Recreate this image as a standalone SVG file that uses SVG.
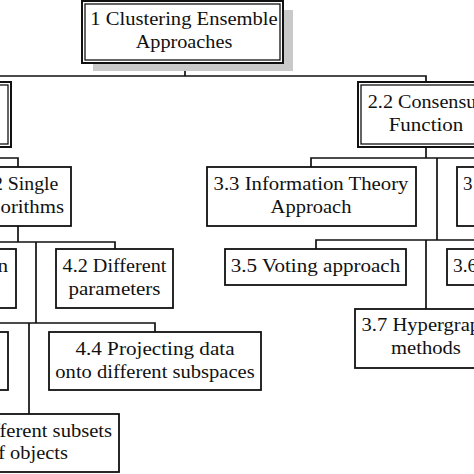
<svg xmlns="http://www.w3.org/2000/svg" width="474" height="474" viewBox="0 0 474 474">
<style>
.box{fill:#fff;stroke:#111;stroke-width:1.8}
.outer{fill:#fff;stroke:#111;stroke-width:2}
.inner{fill:none;stroke:#111;stroke-width:1.3}
.shadow{fill:#c9c9c9;stroke:none}
.conn{fill:none;stroke:#111;stroke-width:1.7}
text{font-family:"Liberation Serif","Times New Roman",serif;font-size:19px;fill:#111}
.c{text-anchor:middle}
</style>
<rect width="474" height="474" fill="#fff"/>
<g id="connectors">
<path class="conn" d="M185 63V76M0 76H426V82"/>
<path class="conn" d="M0 158H18V167M18 226V242M0 242H115V249M36 242V323M0 323H155V332M29 323V414"/>
<path class="conn" d="M426 147V158M311 167V158H474M437 158V240M316 249V240H474M426 240V309"/>
</g>
<g id="n1">
<rect class="shadow" x="93" y="10" width="200" height="61"/>
<rect class="outer" x="82" y="1" width="201" height="62"/>
<rect class="inner" x="85" y="4" width="195" height="56"/>
<text class="c" x="184" y="25" textLength="187.4" lengthAdjust="spacingAndGlyphs">1 Clustering Ensemble</text>
<text class="c" x="184" y="48" textLength="96.7" lengthAdjust="spacingAndGlyphs">Approaches</text>
</g>
<g id="n21">
<rect class="outer" x="-60" y="82" width="71" height="65"/>
<rect class="inner" x="-57" y="85" width="65" height="59"/>
</g>
<g id="n22">
<rect class="outer" x="358" y="82" width="136" height="65"/>
<rect class="inner" x="361" y="85" width="130" height="59"/>
<text class="c" x="426" y="107.5" textLength="116.4" lengthAdjust="spacingAndGlyphs">2.2 Consensus</text>
<text class="c" x="426" y="130.5" textLength="74.7" lengthAdjust="spacingAndGlyphs">Function</text>
</g>
<g id="n32">
<rect class="box" x="-80" y="167" width="151" height="59"/>
<text x="-7.1" y="189.5" textLength="65.4" lengthAdjust="spacingAndGlyphs">2 Single</text>
<text x="0.5" y="212.5" textLength="63.5" lengthAdjust="spacingAndGlyphs">orithms</text>
</g>
<g id="n33">
<rect class="box" x="207" y="167" width="209" height="59"/>
<text class="c" x="311" y="189.5" textLength="194.9" lengthAdjust="spacingAndGlyphs">3.3 Information Theory</text>
<text class="c" x="311" y="212.5" textLength="80.8" lengthAdjust="spacingAndGlyphs">Approach</text>
</g>
<g id="n34">
<rect class="box" x="457" y="167" width="60" height="59"/>
<text x="463" y="189.5" textLength="9.5" lengthAdjust="spacingAndGlyphs">3</text>
</g>
<g id="n41">
<rect class="box" x="-60" y="249" width="76" height="59"/>
<text x="-2.6" y="271.5" textLength="10.6" lengthAdjust="spacingAndGlyphs">n</text>
</g>
<g id="n42">
<rect class="box" x="56" y="249" width="117" height="59"/>
<text class="c" x="114.5" y="271.5" textLength="103.8" lengthAdjust="spacingAndGlyphs">4.2 Different</text>
<text class="c" x="114.5" y="294.5" textLength="92" lengthAdjust="spacingAndGlyphs">parameters</text>
</g>
<g id="n35">
<rect class="box" x="225" y="249" width="181" height="36"/>
<text class="c" x="315.5" y="271.5" textLength="169.5" lengthAdjust="spacingAndGlyphs">3.5 Voting approach</text>
</g>
<g id="n36">
<rect class="box" x="447" y="249" width="60" height="36"/>
<text x="453" y="271.5" textLength="24.3" lengthAdjust="spacingAndGlyphs">3.6</text>
</g>
<g id="n37">
<rect class="box" x="355" y="309" width="142" height="59"/>
<text class="c" x="426" y="331" textLength="128.9" lengthAdjust="spacingAndGlyphs">3.7 Hypergraph</text>
<text class="c" x="426" y="354" textLength="69.8" lengthAdjust="spacingAndGlyphs">methods</text>
</g>
<g id="n43">
<rect class="box" x="-60" y="332" width="68" height="58"/>
</g>
<g id="n44">
<rect class="box" x="49" y="332" width="212" height="58"/>
<text class="c" x="155" y="354.5" textLength="159.2" lengthAdjust="spacingAndGlyphs">4.4 Projecting data</text>
<text class="c" x="155" y="377.5" textLength="199.3" lengthAdjust="spacingAndGlyphs">onto different subspaces</text>
</g>
<g id="n45">
<rect class="box" x="-60" y="414" width="179" height="58"/>
<text x="-7" y="436.5" textLength="119.1" lengthAdjust="spacingAndGlyphs">fferent subsets</text>
<text x="-1.8" y="459" textLength="69.8" lengthAdjust="spacingAndGlyphs">f objects</text>
</g>
</svg>
